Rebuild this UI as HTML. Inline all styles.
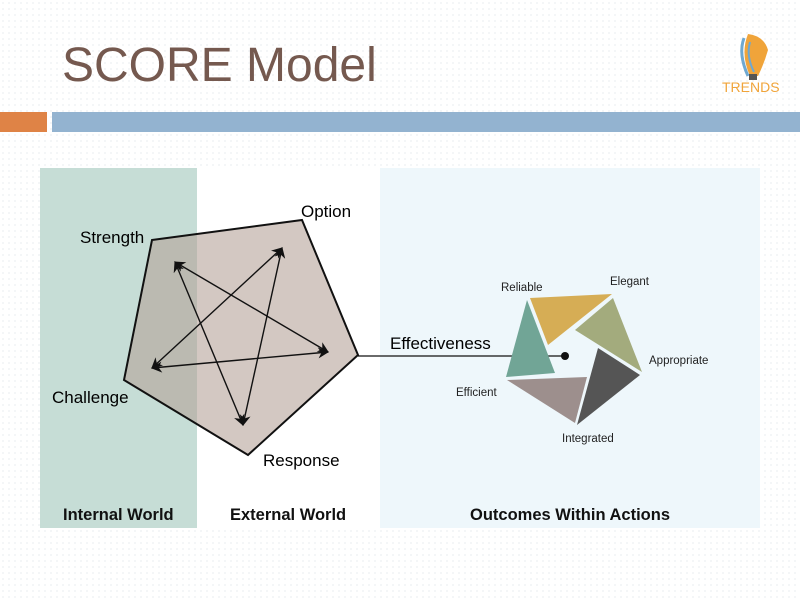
<!DOCTYPE html>
<html><head><style>
body{margin:0;width:800px;height:600px;overflow:hidden;background:#fff;font-family:"Liberation Sans",sans-serif;
background-image:radial-gradient(#d8dde3 0.6px,transparent 0.8px);background-size:6px 6px;}
</style></head><body>
<svg width="800" height="600" style="position:absolute;left:0;top:0" font-family="Liberation Sans, sans-serif">
<defs><marker id="a" viewBox="0 0 10 10" refX="9" refY="5" markerWidth="11" markerHeight="11" markerUnits="userSpaceOnUse" orient="auto-start-reverse"><path d="M0,0 L10,5 L0,10 L3,5z" fill="#111"/></marker></defs>
<text x="62" y="81" font-size="48" fill="#75594f">SCORE Model</text>
<path d="M748,34 q16,2 20,16 q-4,14 -10,26 h-8 q-10,-22 -2,-42z" fill="#f0a43a"/>
<path d="M744,38 q-6,16 4,38" stroke="#6fa8d0" stroke-width="3" fill="none"/>
<path d="M750,42 q-4,14 4,30" stroke="#6fa8d0" stroke-width="2" fill="none"/>
<rect x="749" y="74" width="8" height="6" fill="#555"/>
<text x="722" y="92" font-size="14" fill="#f0a43a">TRENDS</text>
<rect x="0" y="112" width="47" height="20" fill="#df8346"/>
<rect x="52" y="112" width="748" height="20" fill="#93b3d0"/>
<rect x="40" y="168" width="157" height="360" fill="#c6ddd6"/>
<rect x="197" y="168" width="183" height="360" fill="#fff"/>
<rect x="380" y="168" width="380" height="360" fill="#eef7fb"/>
<polygon points="152,240 302,220 358,355 248,455 124,380" fill="rgba(180,160,150,0.58)" stroke="#111" stroke-width="2"/>
<g stroke="#111" stroke-width="1.4" marker-start="url(#a)" marker-end="url(#a)">
<line x1="175" y1="262" x2="328" y2="352"/><line x1="175" y1="262" x2="243" y2="425"/>
<line x1="282" y1="248" x2="243" y2="425"/><line x1="282" y1="248" x2="152" y2="368"/>
<line x1="328" y1="352" x2="152" y2="368"/></g>
<line x1="358" y1="356" x2="565" y2="356" stroke="#111" stroke-width="1.2"/>
<g font-size="17">
<text x="80" y="243">Strength</text>
<text x="301" y="217">Option</text>
<text x="52" y="403">Challenge</text>
<text x="263" y="466">Response</text>
<text x="390" y="349">Effectiveness</text></g>
<polygon points="530,298 612,294 548,345" fill="#d6ad55"/>
<polygon points="613,298 575,330 642,372" fill="#a3ab7d"/>
<polygon points="598,348 640,375 577,425" fill="#555"/>
<polygon points="507,380 587,377 575,423" fill="#9d8f8d"/>
<polygon points="527,300 555,373 506,377" fill="#71a596"/>
<circle cx="565" cy="356" r="4" fill="#111"/>
<g font-size="11.5" fill="#222">
<text x="501" y="291">Reliable</text><text x="610" y="285">Elegant</text>
<text x="649" y="364">Appropriate</text><text x="562" y="442">Integrated</text>
<text x="456" y="396">Efficient</text></g>
<g font-size="16.5" font-weight="bold" fill="#111">
<text x="63" y="520">Internal World</text><text x="230" y="520">External World</text>
<text x="470" y="520">Outcomes Within Actions</text></g>
</svg>
</body></html>
